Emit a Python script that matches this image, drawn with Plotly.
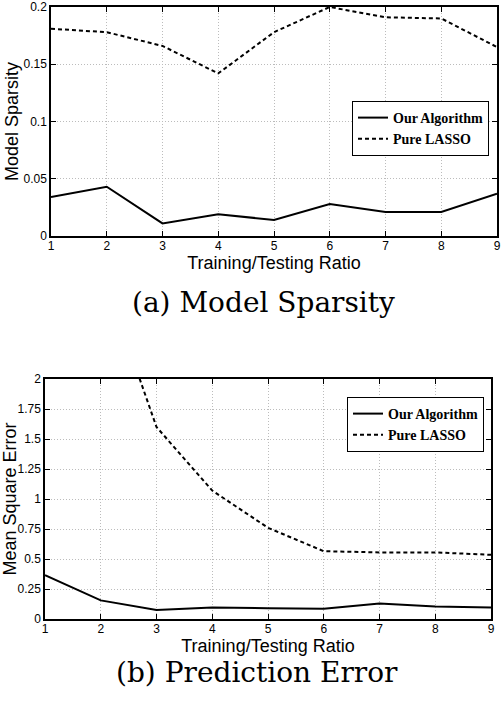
import plotly.graph_objects as go

# training/testing ratios on the x axis
ratios = [1, 2, 3, 4, 5, 6, 7, 8, 9]

# (a) model sparsity
sparsity_ours = [0.034, 0.043, 0.011, 0.019, 0.014, 0.028, 0.021, 0.021, 0.037]
sparsity_lasso = [0.181, 0.178, 0.166, 0.142, 0.178, 0.200, 0.191, 0.190, 0.165]

# (b) prediction error (lasso runs off the top for small ratios)
mse_ours = [0.365, 0.155, 0.075, 0.095, 0.09, 0.085, 0.13, 0.105, 0.095]
mse_lasso = [4.2, 2.93, 1.6, 1.07, 0.76, 0.565, 0.555, 0.555, 0.535]

sparsity_ticks = [0, 0.05, 0.1, 0.15, 0.2]
sparsity_labels = ['0', '0.05', '0.1', '0.15', '0.2']
mse_ticks = [0, 0.25, 0.5, 0.75, 1, 1.25, 1.5, 1.75, 2]
mse_labels = ['0', '0.25', '0.5', '0.75', '1', '1.25', '1.5', '1.75', '2']

W, H = 502, 701
sans = 'Liberation Sans, Arial, sans-serif'
serif = 'Liberation Serif, Times New Roman, serif'
caption_font = 'DejaVu Serif, serif'

fig = go.Figure()
fig.add_trace(go.Scatter(x=ratios, y=sparsity_ours, mode='lines', name='<b>Our Algorithm</b>',
                         line=dict(color='black', width=2), xaxis='x', yaxis='y', legend='legend'))
fig.add_trace(go.Scatter(x=ratios, y=sparsity_lasso, mode='lines', name='<b>Pure LASSO</b>',
                         line=dict(color='black', width=2, dash='4px,3px'), xaxis='x', yaxis='y', legend='legend'))
fig.add_trace(go.Scatter(x=ratios, y=mse_ours, mode='lines', name='<b>Our Algorithm</b>',
                         line=dict(color='black', width=2), xaxis='x2', yaxis='y2', legend='legend2'))
fig.add_trace(go.Scatter(x=ratios, y=mse_lasso, mode='lines', name='<b>Pure LASSO</b>',
                         line=dict(color='black', width=2, dash='4px,3px'), xaxis='x2', yaxis='y2', legend='legend2'))

axis_style = dict(showline=True, linecolor='black', linewidth=1.5, mirror='ticks',
                  ticks='inside', ticklen=5, tickcolor='black', automargin=False,
                  ticklabeloverflow='allow',
                  showgrid=True, gridcolor='#bcbcbc', griddash='1px,2px', gridwidth=1,
                  zeroline=False, tickfont=dict(family=sans, size=12, color='black'))
title_font = dict(family=sans, size=18, color='black')

fig.update_layout(
    template='none',
    width=W, height=H,
    margin=dict(l=0, r=0, t=0, b=0),
    paper_bgcolor='white', plot_bgcolor='white',
    xaxis=dict(axis_style, domain=[51 / W, 497 / W], anchor='y', range=[1, 9], tickvals=ratios,
               ticklabelstandoff=-2,
               title=dict(text='Training/Testing Ratio', font=title_font, standoff=0)),
    yaxis=dict(axis_style, domain=[1 - 236 / H, 1 - 7 / H], anchor='x', range=[0, 0.2],
               tickvals=sparsity_ticks, ticktext=sparsity_labels,
               title=dict(text='Model Sparsity', font=title_font, standoff=0)),
    xaxis2=dict(axis_style, domain=[45 / W, 491 / W], anchor='y2', range=[1, 9], tickvals=ratios,
                ticklabelstandoff=-2,
                title=dict(text='Training/Testing Ratio', font=title_font, standoff=0)),
    yaxis2=dict(axis_style, domain=[1 - 619 / H, 1 - 379 / H], anchor='x2', range=[0, 2],
                tickvals=mse_ticks, ticktext=mse_labels,
                title=dict(text='Mean Square Error', font=title_font, standoff=0)),
    legend=dict(x=489 / W, y=1 - 101 / H, xanchor='right', yanchor='top',
                bgcolor='white', bordercolor='black', borderwidth=1,
                font=dict(family=serif, size=14, color='black'), tracegroupgap=0,
                itemwidth=30),
    legend2=dict(x=484 / W, y=1 - 397 / H, xanchor='right', yanchor='top',
                 bgcolor='white', bordercolor='black', borderwidth=1,
                 font=dict(family=serif, size=14, color='black'), tracegroupgap=0,
                 itemwidth=30),
    showlegend=True,
)

# sub-figure captions
fig.add_annotation(text='(a) Model Sparsity', x=263 / W, y=1 - 302 / H, xref='paper', yref='paper',
                   showarrow=False, xanchor='center', yanchor='middle',
                   font=dict(family=caption_font, size=28, color='black'))
fig.add_annotation(text='(b) Prediction Error', x=257 / W, y=1 - 672 / H, xref='paper', yref='paper',
                   showarrow=False, xanchor='center', yanchor='middle',
                   font=dict(family=caption_font, size=28, color='black'))

# page body has a default 8px margin, drop it so the figure sits at the corner
fig.write_html("out.html", config={'displayModeBar': False},
               post_script="document.body.style.margin='0';")
